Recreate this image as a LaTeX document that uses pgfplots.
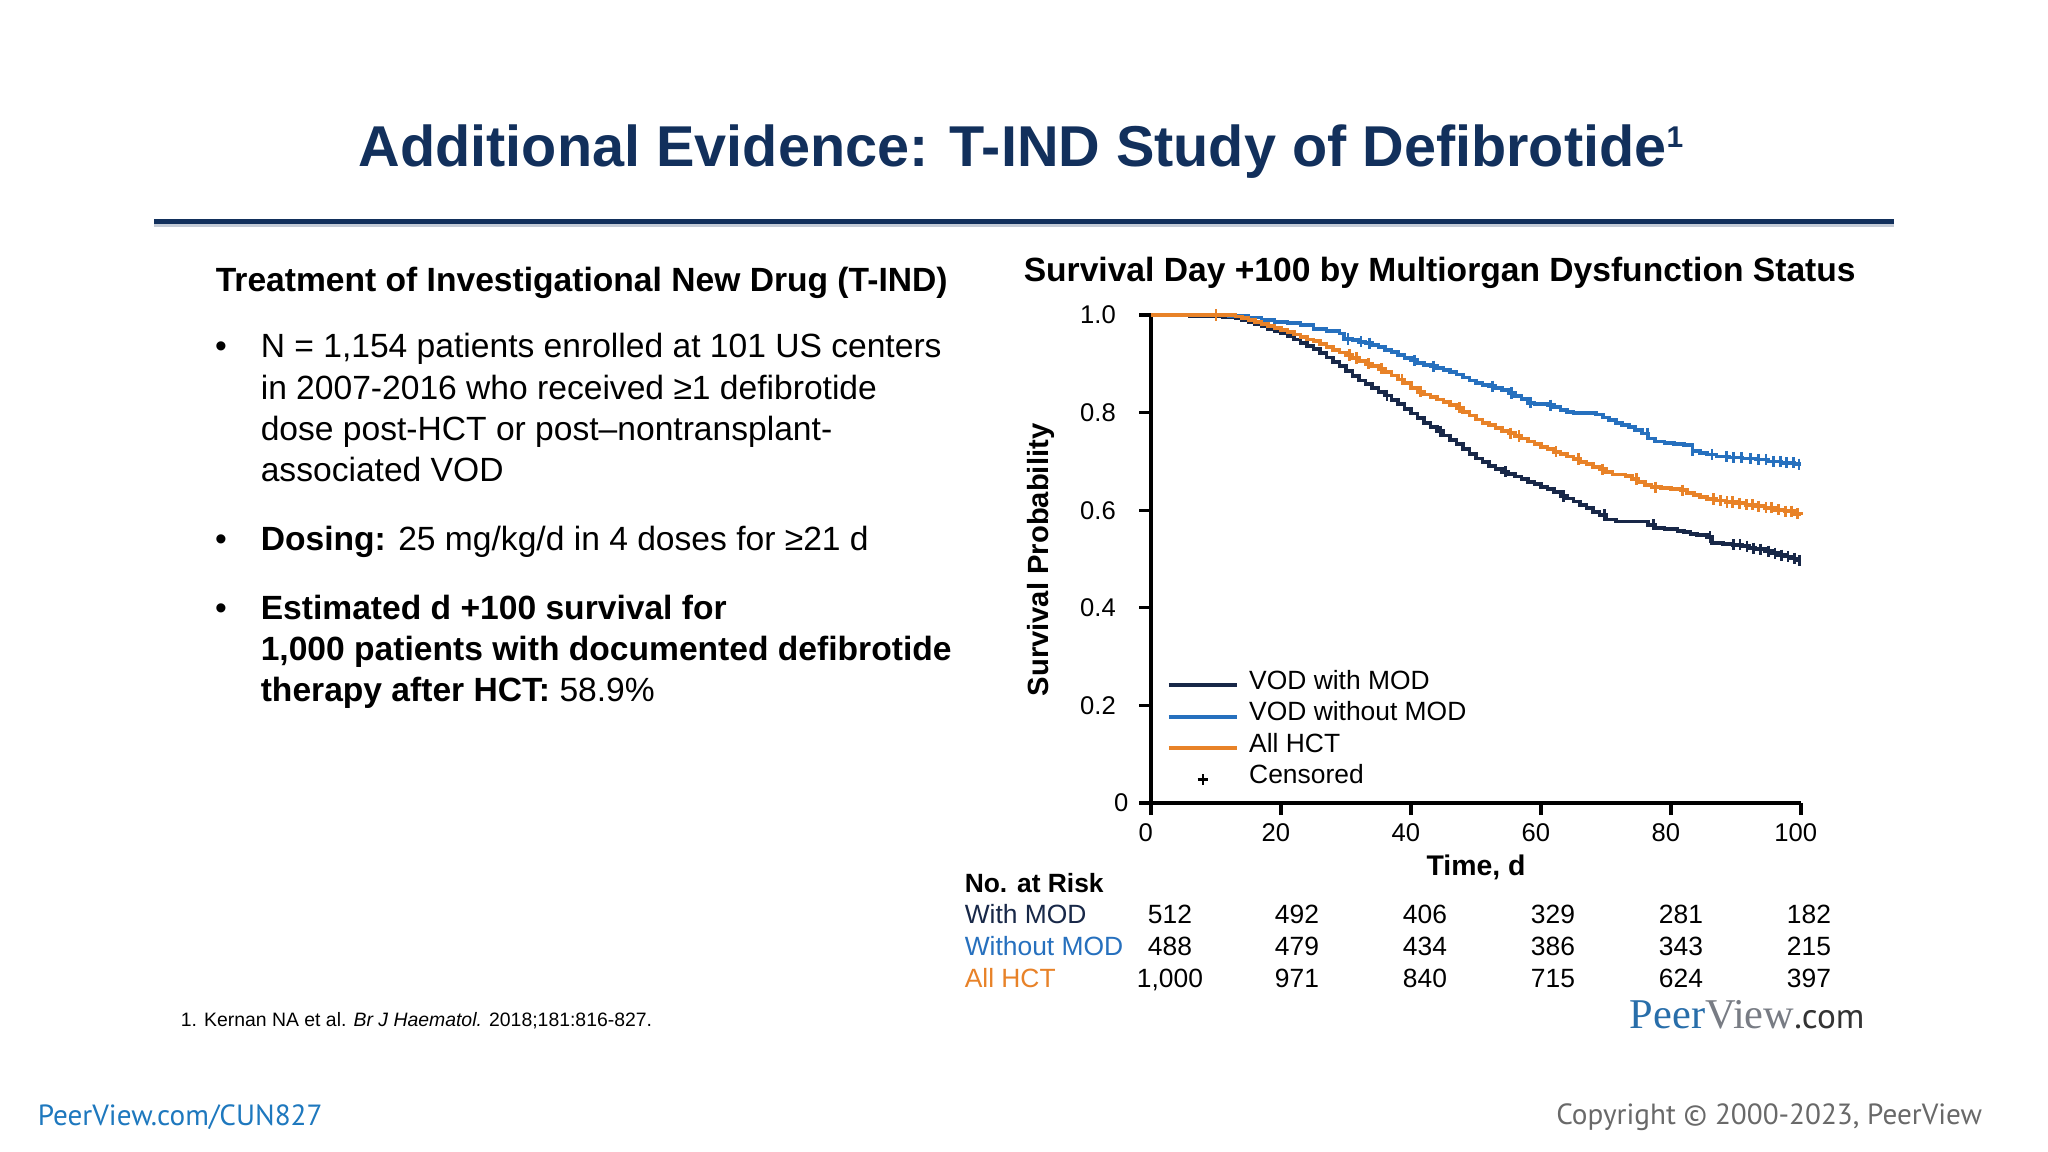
\documentclass[border=0pt]{standalone}
\usepackage{fontspec}
\setmainfont{Liberation Sans}
\newfontfamily\logoserif{Liberation Serif}
\newfontfamily\footfont{PT Sans}
\usepackage{graphicx}
\usepackage{pgfplots}
\pgfplotsset{compat=1.18}

\definecolor{navy}{RGB}{24,40,72}
\definecolor{midblue}{RGB}{38,112,190}
\definecolor{orangeC}{RGB}{232,130,40}
\definecolor{titlenavy}{RGB}{18,48,92}
\definecolor{footblue}{RGB}{30,120,190}
\definecolor{footgray}{RGB}{105,105,105}
\definecolor{logoblue}{RGB}{40,110,170}
\definecolor{logogray}{RGB}{120,124,132}

\newcommand{\bodyfont}{\fontsize{8.4bp}{10.35bp}\selectfont}
\newcommand{\smallfont}{\fontsize{6.6bp}{7.9bp}\selectfont}

\begin{document}
\begin{tikzpicture}
\fill[white] (0,0) rectangle (512bp,-288bp);
\path[use as bounding box] (0,0) rectangle (512bp,-288bp);

\begin{scope}[x=0.25bp,y=-0.25bp]
  % slide header
  \node[anchor=base west, inner sep=0pt, text=titlenavy,
        font=\fontsize{14.4bp}{17bp}\selectfont\bfseries] at (358,167)
        {Additional Evidence: T-IND Study of Defibrotide\raisebox{4.9bp}{\fontsize{7.5bp}{8bp}\selectfont 1}};
  \fill[titlenavy] (154,219.5) rectangle (1894,224.5);
  \fill[titlenavy!25] (154,224.5) rectangle (1894,227.5);

  % left column
  \node[anchor=base west, inner sep=0pt, font=\bodyfont\bfseries] at (215,292)
        {Treatment of Investigational New Drug (T-IND)};
  \foreach \yy in {358,551,620}
    \node[anchor=base, inner sep=0pt, font=\bodyfont] at (221,\yy) {•};
  \node[anchor=base west, inner sep=0pt, font=\bodyfont] at (260,358) {N = 1,154 patients enrolled at 101 US centers};
  \node[anchor=base west, inner sep=0pt, font=\bodyfont] at (260,400) {in 2007-2016 who received ≥1 defibrotide};
  \node[anchor=base west, inner sep=0pt, font=\bodyfont] at (260,441) {dose post-HCT or post–nontransplant-};
  \node[anchor=base west, inner sep=0pt, font=\bodyfont] at (260,482) {associated VOD};
  \node[anchor=base west, inner sep=0pt, font=\bodyfont] at (260,551) {\textbf{Dosing:} 25 mg/kg/d in 4 doses for ≥21 d};
  \node[anchor=base west, inner sep=0pt, font=\bodyfont\bfseries] at (260,620) {Estimated d +100 survival for};
  \node[anchor=base west, inner sep=0pt, font=\bodyfont\bfseries] at (260,661) {1,000 patients with documented defibrotide};
  \node[anchor=base west, inner sep=0pt, font=\bodyfont] at (260,702) {\textbf{therapy after HCT:} 58.9\%};

  \node[anchor=base west, inner sep=0pt, font=\fontsize{4.85bp}{6bp}\selectfont] at (180,1027)
        {1. Kernan NA et al. \textit{Br J Haematol.} 2018;181:816-827.};

  % chart heading
  \node[anchor=base west, inner sep=0pt, font=\bodyfont\bfseries] at (1023,282)
        {Survival Day +100 by Multiorgan Dysfunction Status};

  % number at risk
  \node[anchor=base west, inner sep=0pt, font=\smallfont\bfseries] at (964,893) {No. at Risk};
  \node[anchor=base west, inner sep=0pt, font=\smallfont, text=navy] at (964,924) {With MOD};
  \node[anchor=base west, inner sep=0pt, font=\smallfont, text=midblue] at (964,956) {Without MOD};
  \node[anchor=base west, inner sep=0pt, font=\smallfont, text=orangeC] at (964,988) {All HCT};
  \foreach \xx/\a/\b/\c in {1170/512/488/{1,000}, 1297/492/479/971, 1425/406/434/840,
                            1553/329/386/715, 1681/281/343/624, 1809/182/215/397} {
    \node[anchor=base, inner sep=0pt, font=\smallfont] at (\xx,924) {\a};
    \node[anchor=base, inner sep=0pt, font=\smallfont] at (\xx,956) {\b};
    \node[anchor=base, inner sep=0pt, font=\smallfont] at (\xx,988) {\c};
  }

  % logo and footer
  \node[anchor=base west, inner sep=0pt] at (1629,1029)
        {\fontsize{10.6bp}{12bp}\logoserif\textcolor{logoblue}{Peer}\textcolor{logogray}{View}\fontsize{8.8bp}{10bp}\footfont\textcolor{black!80}{.com}};
  \node[anchor=west, inner sep=0pt, text=footblue, font=\fontsize{7.3bp}{9bp}\footfont] at (37,1117)
        {PeerView.com/CUN827};
  \node[anchor=east, inner sep=0pt, text=footgray, font=\fontsize{7.3bp}{9bp}\footfont] at (1983,1117)
        {Copyright © 2000-2023, PeerView};
\end{scope}

\begin{axis}[
  at={(287.75bp,-200.75bp)}, anchor=south west,
  scale only axis, width=162.5bp, height=122bp,
  xmin=0, xmax=100, ymin=0, ymax=1,
  axis lines*=left,
  axis line style={-, line width=0.8bp, black},
  clip=false,
  tick align=outside, major tick length=3bp,
  tick style={line width=0.8bp, black},
  /pgf/number format/assume math mode=true,
  xtick={0,20,40,60,80,100},
  xticklabels={0,20,40,60,80,100},
  ytick={0,0.2,0.4,0.6,0.8,1},
  yticklabels={0\kern-3.75bp,0.2,0.4,0.6,0.8,1.0},
  xticklabel style={font=\fontsize{6.4bp}{7.5bp}\selectfont, anchor=north, inner sep=0pt, xshift=-1.3bp, yshift=-2bp},
  yticklabel style={font=\fontsize{6.4bp}{7.5bp}\selectfont, anchor=east, inner sep=0pt, xshift=-5.6bp},
  xlabel={Time, d},
  ylabel={Survival Probability},
  every axis x label/.style={at={(axis description cs:0.5,-0.131)}, anchor=center, font=\fontsize{7.1bp}{8bp}\selectfont\bfseries},
  every axis y label/.style={at={(axis description cs:-0.169,0.498)}, rotate=90, anchor=center, font=\fontsize{7.3bp}{8bp}\selectfont\bfseries},
  legend cell align=left,
  legend style={draw=none, fill=none, at={(axis cs:2.46,0.2734)}, anchor=north west,
                inner sep=0pt, outer sep=0pt, row sep=0pt, column sep=2.6bp,
                font=\smallfont,
                nodes={inner sep=0pt, text height=5bp, text depth=2.84bp}},
]
% VOD with MOD
\addplot[navy, line width=0.95bp, const plot] coordinates {
(0,1.000) (6,0.998) (11,0.996) (13,0.994) (14,0.990) (15,0.985) (16,0.981) (17,0.977)
(18,0.972) (19,0.968) (20,0.963) (21,0.957) (22,0.950) (23,0.943) (24,0.937) (25,0.931)
(26,0.922) (27,0.913) (28,0.904) (29,0.896) (30,0.885) (31,0.875) (32,0.866) (33,0.858)
(34,0.850) (35,0.842) (36,0.835) (37,0.826) (38,0.818) (39,0.808) (40,0.798) (41,0.789)
(42,0.779) (43,0.771) (44,0.762) (45,0.753) (46,0.744) (47,0.735) (48,0.726) (49,0.716)
(50,0.706) (51,0.698) (52,0.691) (53,0.685) (54,0.679) (55,0.674) (56,0.669) (57,0.664)
(58,0.658) (59,0.653) (60,0.648) (61,0.644) (62,0.637) (63,0.629) (64,0.624) (65,0.618)
(66,0.611) (67,0.604) (68,0.597) (69,0.590) (70,0.581) (71.5,0.577) (76.5,0.570) (77.5,0.563)
(79,0.561) (81,0.558) (82,0.555) (83,0.552) (84,0.549) (85.5,0.545) (86.3,0.533) (88,0.531)
(89.5,0.529) (91,0.526) (92,0.522) (93,0.520) (94.5,0.516) (95.5,0.512) (96.5,0.508)
(97.5,0.505) (98.5,0.501) (99.5,0.497) (100,0.497)
};
\addlegendentry{VOD with MOD}
% VOD without MOD
\addplot[midblue, line width=0.95bp, const plot] coordinates {
(0,1.000) (12,0.998) (15,0.995) (17,0.990) (19,0.986) (21,0.983) (23,0.979) (25,0.972)
(27,0.967) (29,0.962) (29.7,0.951) (31,0.948) (32,0.945) (33,0.942) (34,0.938) (35,0.935)
(36,0.929) (37,0.924) (38,0.918) (39,0.912) (40,0.907) (41,0.902) (42,0.898) (43,0.895)
(44,0.891) (45,0.887) (46,0.883) (47,0.878) (48,0.872) (49,0.866) (50,0.861) (51,0.857)
(52,0.854) (53,0.851) (54,0.846) (55,0.840) (56,0.834) (57,0.828) (58,0.820) (59,0.817)
(61,0.815) (62,0.811) (63,0.806) (64,0.801) (65,0.799) (68.5,0.796) (69.5,0.790)
(70.5,0.785) (71.5,0.779) (72.5,0.775) (73.5,0.770) (74.5,0.765) (75.5,0.757) (76.5,0.747)
(77.5,0.741) (79,0.738) (80.5,0.736) (82,0.734) (83.3,0.722) (84.5,0.718) (85.5,0.714)
(87,0.710) (89,0.708) (91,0.706) (93,0.704) (95,0.700) (97,0.697) (99,0.694) (100,0.694)
};
\addlegendentry{VOD without MOD}
% All HCT
\addplot[orangeC, line width=0.95bp, const plot] coordinates {
(0,1.000) (13,0.997) (14,0.994) (15,0.989) (16,0.985) (17,0.981) (18,0.977) (19,0.973)
(20,0.969) (21,0.965) (22,0.960) (23,0.955) (24,0.950) (25,0.946) (26,0.941) (27,0.935)
(28,0.929) (29,0.923) (30,0.918) (31,0.912) (32,0.906) (33,0.900) (34,0.895) (35,0.890)
(36,0.884) (37,0.876) (38,0.868) (39,0.860) (40,0.851) (41,0.843) (42,0.837) (43,0.832)
(44,0.827) (45,0.822) (46,0.816) (47,0.810) (48,0.802) (49,0.794) (50,0.786) (51,0.779)
(52,0.774) (53,0.768) (54,0.763) (55,0.758) (56,0.752) (57,0.747) (58,0.741) (59,0.735)
(60,0.730) (61,0.725) (62,0.720) (63,0.715) (64,0.710) (65,0.705) (66,0.699) (67,0.694)
(68,0.689) (69,0.684) (70,0.678) (71,0.673) (73,0.670) (74,0.664) (75,0.658) (76,0.652)
(77,0.647) (78.5,0.645) (80,0.643) (81.5,0.641) (82.5,0.636) (83.5,0.631) (84.5,0.627)
(85.5,0.623) (87,0.620) (88.5,0.617) (90,0.614) (91.5,0.611) (93,0.608) (94.5,0.605)
(96,0.601) (97.5,0.598) (99,0.593) (100,0.592)
};
\addlegendentry{All HCT}

% censoring ticks
\addplot[forget plot, only marks, mark=|, mark size=1.4bp, navy, mark options={line width=0.7bp}] coordinates {
(36.3,0.835) (44.5,0.762) (54.5,0.679) (63.5,0.629) (69.8,0.590) (77.3,0.570) (86.0,0.545)
(89.6,0.529) (90.6,0.529) (91.7,0.526) (92.7,0.522) (93.8,0.520) (95,0.516) (96,0.512)
(97,0.508) (98,0.505) (99,0.501) (99.8,0.497)
};
\addplot[forget plot, only marks, mark=|, mark size=1.4bp, midblue, mark options={line width=0.7bp}] coordinates {
(30.3,0.951) (32.3,0.945) (33.6,0.942) (40.5,0.907) (43.5,0.895) (52.5,0.854) (55.5,0.840)
(58.4,0.820) (61.4,0.815) (76.4,0.757) (83.3,0.722) (86.3,0.714) (88.5,0.710) (89.6,0.708)
(90.8,0.708) (92.2,0.706) (93.5,0.704) (94.6,0.704) (95.8,0.700) (96.8,0.700) (97.8,0.697)
(98.8,0.697) (99.7,0.694)
};
\addplot[forget plot, only marks, mark=|, mark size=1.4bp, orangeC, mark options={line width=0.7bp}] coordinates {
(10,1.000) (30.5,0.918) (31.6,0.912) (33.4,0.900) (35.5,0.890) (38.6,0.868) (41.5,0.843)
(47.5,0.810) (55.3,0.758) (56.6,0.752) (62.3,0.720) (65.8,0.705) (69.5,0.684) (74.7,0.664)
(77.6,0.647) (81.8,0.641) (86.5,0.623) (87.6,0.620) (88.6,0.617) (89.5,0.617) (90.5,0.614)
(91.6,0.611) (92.5,0.611) (93.5,0.608) (94.6,0.605) (95.5,0.605) (96.5,0.601) (97.6,0.598)
(98.5,0.598) (99.5,0.593)
};
\addlegendimage{only marks, mark=+, black, mark size=1.3bp, mark options={line width=0.7bp}}
\addlegendentry{Censored}
\end{axis}
\end{tikzpicture}
\end{document}
